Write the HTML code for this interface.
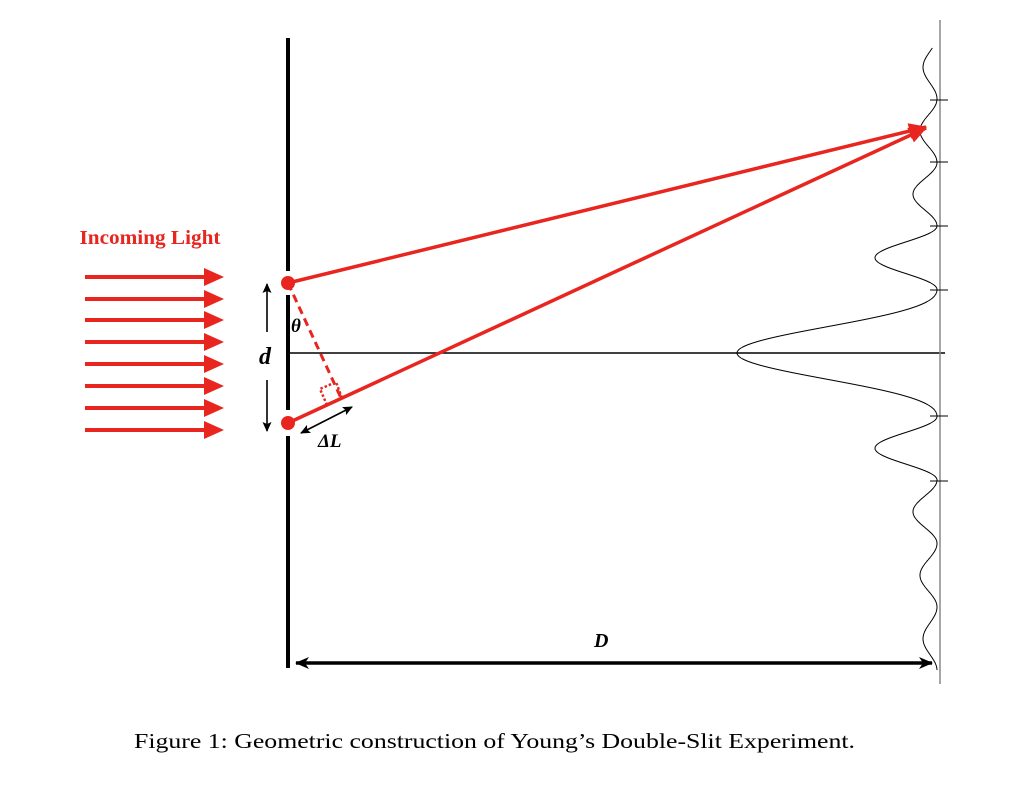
<!DOCTYPE html>
<html><head><meta charset="utf-8"><style>
html,body{margin:0;padding:0;background:#fff;width:1024px;height:810px;overflow:hidden}
svg{display:block}
</style></head><body>
<svg id="s" width="1024" height="810" viewBox="0 0 1024 810" xmlns="http://www.w3.org/2000/svg">
<defs>
<marker id="rb" markerWidth="18" markerHeight="16" refX="17" refY="8" orient="auto" markerUnits="userSpaceOnUse"><path d="M0,0 L18,8 L0,16 Z" fill="#e8251f"/></marker>
<marker id="kb" markerWidth="14" markerHeight="12" refX="13" refY="6" orient="auto" markerUnits="userSpaceOnUse"><path d="M0,0 L14,6 L0,12 L4,6 Z" fill="#000"/></marker>
<marker id="ks" markerWidth="10" markerHeight="9" refX="9" refY="4.5" orient="auto" markerUnits="userSpaceOnUse"><path d="M0,0 L10,4.5 L0,9 L2,4.5 Z" fill="#000"/></marker>
<marker id="ksr" markerWidth="10" markerHeight="9" refX="1" refY="4.5" orient="auto" markerUnits="userSpaceOnUse"><path d="M10,0 L0,4.5 L10,9 L8,4.5 Z" fill="#000"/></marker>
<marker id="kbr" markerWidth="14" markerHeight="12" refX="1" refY="6" orient="auto" markerUnits="userSpaceOnUse"><path d="M14,0 L0,6 L14,12 L10,6 Z" fill="#000"/></marker>
</defs>
<text x="150" y="244" text-anchor="middle" font-family="Liberation Serif, serif" font-weight="bold" font-size="20" fill="#e8251f" textLength="141" lengthAdjust="spacingAndGlyphs">Incoming Light</text>
<g stroke="#e8251f" stroke-width="4">
<line x1="85" y1="277" x2="208" y2="277"/><line x1="85" y1="299" x2="208" y2="299"/>
<line x1="85" y1="320" x2="208" y2="320"/><line x1="85" y1="342" x2="208" y2="342"/>
<line x1="85" y1="364" x2="208" y2="364"/><line x1="85" y1="386" x2="208" y2="386"/>
<line x1="85" y1="408" x2="208" y2="408"/><line x1="85" y1="430" x2="208" y2="430"/>
</g>
<g fill="#e8251f">
<path d="M204,268 L224,277 L204,286 Z"/><path d="M204,290 L224,299 L204,308 Z"/>
<path d="M204,311 L224,320 L204,329 Z"/><path d="M204,333 L224,342 L204,351 Z"/>
<path d="M204,355 L224,364 L204,373 Z"/><path d="M204,377 L224,386 L204,395 Z"/>
<path d="M204,399 L224,408 L204,417 Z"/><path d="M204,421 L224,430 L204,439 Z"/>
</g>
<g stroke="#000" stroke-width="4">
<line x1="288" y1="38" x2="288" y2="271"/>
<line x1="288" y1="295" x2="288" y2="410"/>
<line x1="288" y1="436" x2="288" y2="668"/>
</g>
<line x1="288" y1="353" x2="945" y2="353" stroke="#000" stroke-width="1.6"/>
<line x1="940" y1="20" x2="940" y2="684" stroke="#888" stroke-width="1.5"/>
<g stroke="#000" stroke-width="1">
<line x1="930" y1="100" x2="948" y2="100"/><line x1="930" y1="162" x2="948" y2="162"/>
<line x1="930" y1="226" x2="948" y2="226"/><line x1="930" y1="290" x2="948" y2="290"/>
<line x1="930" y1="416" x2="948" y2="416"/><line x1="930" y1="481" x2="948" y2="481"/>
</g>
<path id="curve" fill="none" stroke="#000" stroke-width="1"/>
<line x1="288" y1="283" x2="926" y2="127" stroke="#e8251f" stroke-width="3.5" marker-end="url(#rb)"/>
<line x1="288" y1="423" x2="926" y2="128" stroke="#e8251f" stroke-width="3.5" marker-end="url(#rb)"/>
<line x1="288" y1="283" x2="341" y2="398" stroke="#e8251f" stroke-width="3" stroke-dasharray="8,5"/>
<path d="M327,405 L320,389 L336,382 L342,398" fill="none" stroke="#e8251f" stroke-width="2.5" stroke-dasharray="2.5,2"/>
<circle cx="288" cy="283" r="7" fill="#e8251f"/>
<circle cx="288" cy="423" r="7" fill="#e8251f"/>
<line x1="267" y1="332" x2="267" y2="284" stroke="#000" stroke-width="1.6" marker-end="url(#ks)"/>
<line x1="267" y1="380" x2="267" y2="431" stroke="#000" stroke-width="1.6" marker-end="url(#ks)"/>
<line x1="301" y1="433" x2="352" y2="407" stroke="#000" stroke-width="1.6" marker-start="url(#ksr)" marker-end="url(#ks)"/>
<line x1="296" y1="663" x2="932" y2="663" stroke="#000" stroke-width="3.5" marker-start="url(#kbr)" marker-end="url(#kb)"/>
<g font-family="Liberation Serif, serif" font-weight="bold" font-style="italic" fill="#000">
<text x="259" y="364" font-size="24">d</text>
<text x="291" y="332" font-size="19">θ</text>
<text x="318" y="447" font-size="19">ΔL</text>
<text x="594" y="647" font-size="20">D</text>
</g>
<text x="134" y="748" font-family="Liberation Serif, serif" font-size="21" fill="#000" textLength="721" lengthAdjust="spacingAndGlyphs">Figure 1: Geometric construction of Young’s Double-Slit Experiment.</text>
</svg>
<script>
(function(){
var base=937,c=353,p=63.5,amps=[200,62,24,17,14,12];
var pts=[];
for(var y=48;y<=670;y+=0.5){
 var t=Math.abs(y-c)/p, a;
 if(t<1){var s=t<1e-6?1:Math.sin(Math.PI*t)/(Math.PI*t);a=200*s*s;}
 else{var n=Math.floor(t);var A=amps[Math.min(n,5)];var s2=Math.sin(Math.PI*(t-n));a=A*s2*s2;}
 pts.push((base-a).toFixed(1)+","+y.toFixed(1));
}
document.getElementById("curve").setAttribute("d","M"+pts.join(" L"));
})();
</script>
</body></html>
